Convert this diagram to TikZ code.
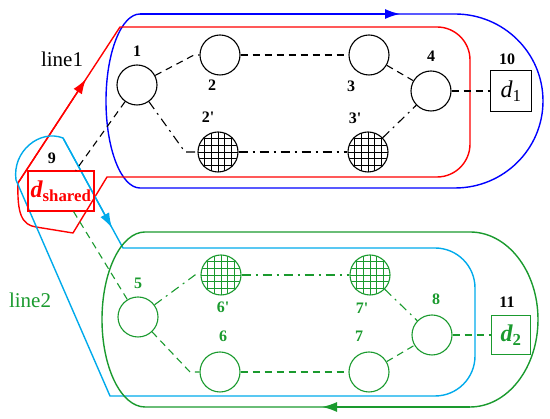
\documentclass[tikz,border=0pt]{standalone}
\usepackage{fontspec}
\setmainfont{Liberation Serif}[Ligatures=TeXOff]
\usetikzlibrary{arrows.meta}
\usetikzlibrary{positioning}
\definecolor{lgreen}{RGB}{26,154,46}
\definecolor{lcyan}{RGB}{0,170,235}

\begin{document}
\begin{tikzpicture}[x=1pt, y=1pt,
        stn/.style={circle, draw, line width=1.1pt, minimum size=40pt, inner sep=0pt},
        hatch/.style={stn, path picture={\draw [line width=0.9pt] (path picture bounding box.south west) grid [step=6.7pt] (path picture bounding box.north east);}},
        dbox/.style={draw, line width=1.1pt, minimum size=41pt, inner sep=0pt, font=\fontsize{24}{24}\selectfont},
        num/.style={font=\bfseries\fontsize{16}{16}\selectfont},
        dashln/.style={line width=1.1pt, dash pattern=on 7pt off 5pt},
        dotln/.style={line width=1.1pt, dash pattern=on 9pt off 5pt on 2pt off 5pt},
        route/.style={line width=1.4pt, line join=round},
        arr/.style={-{Latex[length=15pt, width=10pt]}}]
    \useasboundingbox (0,0) rectangle (550,419);

    \draw [route, blue] (140,405) -- (455,405) arc [start angle=90, end angle=-90, x radius=88, y radius=87] -- (140,231) arc [start angle=270, end angle=90, x radius=34, y radius=87] -- cycle;
    \draw [route, blue, arr] (140,405) -- (400,405);
    \draw [route, red] (18,236) -- (120,392) -- (437,392) arc [start angle=90, end angle=0, radius=33] -- (470,275) arc [start angle=0, end angle=-90, radius=33] -- (107,242) -- (73,186) -- (36,192) .. controls (22,194) and (17,205) .. (18,236) -- cycle;
    \draw [route, red, arr] (18,236) -- (86,340);
    \draw [route, lcyan] (110,23) -- (16,239) .. controls (12,268) and (40,290) .. (63,281) -- (123,171) -- (435,171) arc [start angle=90, end angle=0, radius=40] -- (475,63) arc [start angle=0, end angle=-90, radius=40] -- cycle;
    \draw [route, lcyan, arr] (63,281) -- (112,191);
    \draw [route, lgreen] (145,187) -- (470,187) arc [start angle=90, end angle=-90, x radius=68, y radius=87.5] -- (145,12) arc [start angle=270, end angle=90, x radius=43, y radius=87.5] -- cycle;
    \draw [route, lgreen, arr] (470,12) -- (322,12);

    \node [font=\fontsize{21}{21}\selectfont] (line1) at (62,360) {line1};
    \node [font=\fontsize{21}{21}\selectfont, lgreen] (line2) at (30,119) {line2};

    \node [stn] (n1) at (137,334) {};
    \node [stn] (n2) at (220,364) {};
    \node [stn] (n3) at (369,364) {};
    \node [stn] (n4) at (431,328) {};
    \node [hatch] (n2p) at (218,267) {};
    \node [hatch] (n3p) at (368,267) {};
    \node [dbox] (d1) at (511,328) {\itshape d\textsubscript{\upshape 1}};
    \node [dbox, red, minimum width=66pt, minimum height=40pt, font=\bfseries\itshape\fontsize{24}{24}\selectfont] (dshared) at (61,228) {d\textsubscript{\upshape shared}};

    \node [stn, lgreen] (n5) at (138,102) {};
    \node [hatch, lgreen] (n6p) at (221,144) {};
    \node [stn, lgreen] (n6) at (220,47) {};
    \node [hatch, lgreen] (n7p) at (370,144) {};
    \node [stn, lgreen] (n7) at (369,47) {};
    \node [stn, lgreen] (n8) at (432,84) {};
    \node [dbox, lgreen, minimum size=39pt, font=\bfseries\itshape\fontsize{24}{24}\selectfont] (d2) at (511,84) {d\textsubscript{\upshape 2}};

    \node [num, above=4pt of n1] (l1) {1};
    \node [num] (l2) at (212,334) {2};
    \node [num] (l2p) at (208,302) {2'};
    \node [num] (l3) at (351,333) {3};
    \node [num] (l3p) at (355,301) {3'};
    \node [num, above=5pt of n4] (l4) {4};
    \node [num, above=2pt of d1, xshift=-4pt] (l10) {10};
    \node [num] (l9) at (52,261) {9};
    \node [num, lgreen, above=4pt of n5] (l5) {5};
    \node [num, lgreen] (l6p) at (223,112) {6'};
    \node [num, lgreen] (l6) at (223,83) {6};
    \node [num, lgreen] (l7p) at (362,111) {7'};
    \node [num, lgreen] (l7) at (359,83) {7};
    \node [num, lgreen, above=6pt of n8, xshift=4pt] (l8) {8};
    \node [num, above=4pt of d2, xshift=-4pt] (l11) {11};

    \draw [dashln] (n1) -- ([xshift=-26pt]n2.center) -- (n2);
    \draw [dashln] (n2) -- (n3);
    \draw [dashln] (n3) -- (n4);
    \draw [dashln] (n4) -- (d1);
    \draw [dotln] (n1) -- ([xshift=-33pt]n2p.center) -- (n2p);
    \draw [dotln] (n2p) -- (n3p);
    \draw [dotln] (n3p) -- (n4);
    \draw [dashln] (n1) -- (dshared);
    \draw [dashln, lgreen] (dshared) -- (n5);
    \draw [dotln, lgreen] (n5) -- ([xshift=-26pt]n6p.center) -- (n6p);
    \draw [dotln, lgreen] (n6p) -- (n7p);
    \draw [dotln, lgreen] (n7p) -- (n8);
    \draw [dashln, lgreen] (n5) -- ([xshift=-30pt]n6.center) -- (n6);
    \draw [dashln, lgreen] (n6) -- (n7);
    \draw [dashln, lgreen] (n7) -- (n8);
    \draw [dashln, lgreen] (n8) -- (d2);
\end{tikzpicture}
\end{document}
